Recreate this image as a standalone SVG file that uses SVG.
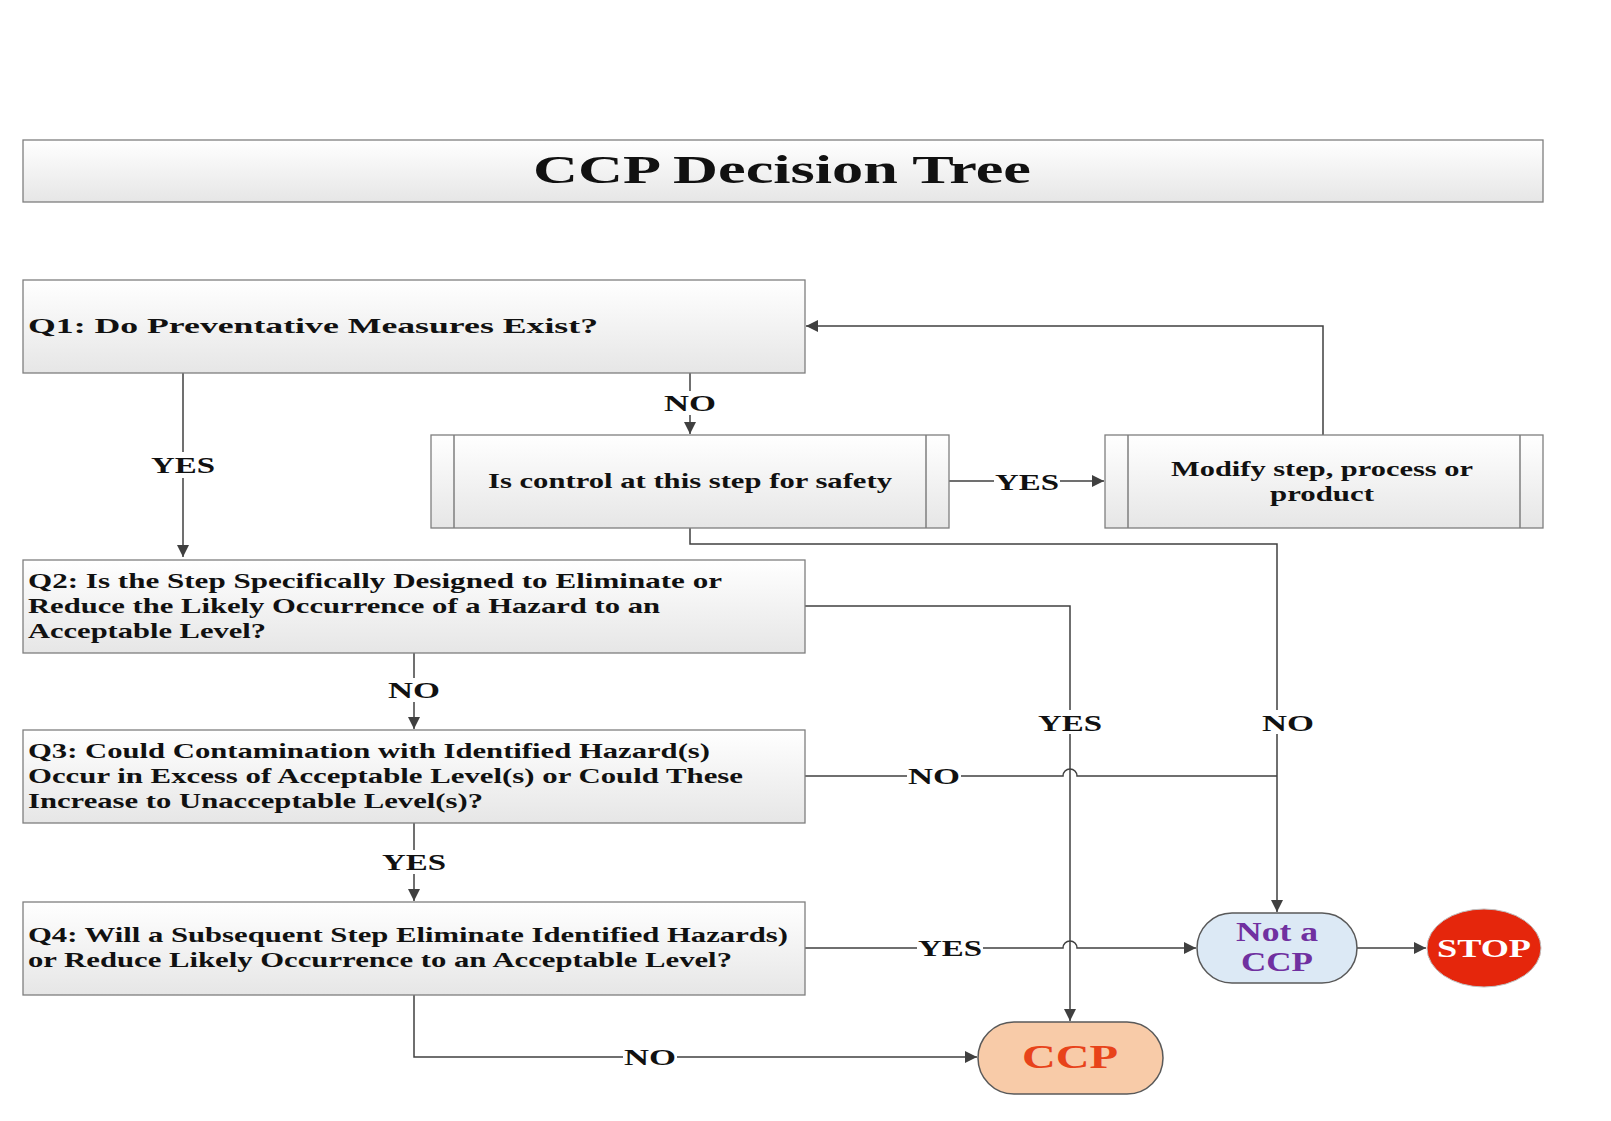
<svg xmlns="http://www.w3.org/2000/svg" width="1611" height="1121" viewBox="0 0 1611 1121">
<defs>
<linearGradient id="g" x1="0" y1="0" x2="0" y2="1"><stop offset="0" stop-color="#ffffff"/><stop offset="1" stop-color="#e6e6e6"/></linearGradient>
<marker id="a" viewBox="0 0 10 10" refX="10" refY="5" markerWidth="12" markerHeight="12" markerUnits="userSpaceOnUse" orient="auto"><path d="M0,0 L10,5 L0,10 z" fill="#404040"/></marker>
<style>
.box{fill:url(#g);stroke:#7f7f7f;stroke-width:1.3}
.t{font-family:"Liberation Serif",serif;font-weight:bold;font-size:22px;fill:#111}
.c{text-anchor:middle}
.ln{fill:none;stroke:#404040;stroke-width:1.5}
.lb{font-family:"Liberation Serif",serif;font-weight:bold;font-size:24px;fill:#111;text-anchor:middle}
.bg{fill:#fff}
</style>
</defs>
<rect width="1611" height="1121" fill="#fff"/>
<g id="title"><rect class="box" x="23" y="140" width="1520" height="62"/><text class="t c" x="782" y="183" style="font-size:40px" textLength="498" lengthAdjust="spacingAndGlyphs">CCP Decision Tree</text></g>
<g id="connectors">
<path class="ln" d="M183,373 V557" marker-end="url(#a)"/>
<path class="ln" d="M690,373 V434" marker-end="url(#a)"/>
<path class="ln" d="M949,481 H1104" marker-end="url(#a)"/>
<path class="ln" d="M1323,435 V326 H806" marker-end="url(#a)"/>
<path class="ln" d="M690,528 V544 H1277 V912" marker-end="url(#a)"/>
<path class="ln" d="M805,606 H1070 V1021" marker-end="url(#a)"/>
<path class="ln" d="M414,653 V729" marker-end="url(#a)"/>
<path class="ln" d="M805,776 H1063 A7,7 0 0 1 1077,776 H1277"/>
<path class="ln" d="M414,823 V901" marker-end="url(#a)"/>
<path class="ln" d="M805,948 H1063 A7,7 0 0 1 1077,948 H1196" marker-end="url(#a)"/>
<path class="ln" d="M1357,948 H1426" marker-end="url(#a)"/>
<path class="ln" d="M414,995 V1057 H977" marker-end="url(#a)"/>
<rect class="bg" x="150" y="452" width="66" height="26"/><text class="lb" x="183" y="473" textLength="64" lengthAdjust="spacingAndGlyphs">YES</text>
<rect class="bg" x="663" y="391" width="54" height="24"/><text class="lb" x="690" y="411" textLength="52" lengthAdjust="spacingAndGlyphs">NO</text>
<rect class="bg" x="994" y="469" width="66" height="24"/><text class="lb" x="1027" y="490" textLength="64" lengthAdjust="spacingAndGlyphs">YES</text>
<rect class="bg" x="1261" y="710" width="54" height="24"/><text class="lb" x="1288" y="731" textLength="52" lengthAdjust="spacingAndGlyphs">NO</text>
<rect class="bg" x="1037" y="710" width="66" height="24"/><text class="lb" x="1070" y="731" textLength="64" lengthAdjust="spacingAndGlyphs">YES</text>
<rect class="bg" x="387" y="678" width="54" height="24"/><text class="lb" x="414" y="698" textLength="52" lengthAdjust="spacingAndGlyphs">NO</text>
<rect class="bg" x="907" y="764" width="54" height="24"/><text class="lb" x="934" y="784" textLength="52" lengthAdjust="spacingAndGlyphs">NO</text>
<rect class="bg" x="381" y="850" width="66" height="24"/><text class="lb" x="414" y="870" textLength="64" lengthAdjust="spacingAndGlyphs">YES</text>
<rect class="bg" x="917" y="936" width="66" height="24"/><text class="lb" x="950" y="956" textLength="64" lengthAdjust="spacingAndGlyphs">YES</text>
<rect class="bg" x="623" y="1045" width="54" height="24"/><text class="lb" x="650" y="1065" textLength="52" lengthAdjust="spacingAndGlyphs">NO</text>
</g>
<g id="q1"><rect class="box" x="23" y="280" width="782" height="93"/><text class="t" x="28" y="333" textLength="570" lengthAdjust="spacingAndGlyphs">Q1: Do Preventative Measures Exist?</text></g>
<g id="control"><rect class="box" x="431" y="435" width="518" height="93"/><path class="ln" d="M454,435 V528 M926,435 V528" style="stroke:#7f7f7f"/><text class="t c" x="690" y="488" textLength="404" lengthAdjust="spacingAndGlyphs">Is control at this step for safety</text></g>
<g id="modify"><rect class="box" x="1105" y="435" width="438" height="93"/><path class="ln" d="M1128,435 V528 M1520,435 V528" style="stroke:#7f7f7f"/><text class="t c" x="1322" y="476" textLength="302" lengthAdjust="spacingAndGlyphs">Modify step, process or</text><text class="t c" x="1322" y="501" textLength="104" lengthAdjust="spacingAndGlyphs">product</text></g>
<g id="q2"><rect class="box" x="23" y="560" width="782" height="93"/><text class="t" x="28" y="588" textLength="694" lengthAdjust="spacingAndGlyphs">Q2: Is the Step Specifically Designed to Eliminate or</text><text class="t" x="28" y="613" textLength="632" lengthAdjust="spacingAndGlyphs">Reduce the Likely Occurrence of a Hazard to an</text><text class="t" x="28" y="638" textLength="238" lengthAdjust="spacingAndGlyphs">Acceptable Level?</text></g>
<g id="q3"><rect class="box" x="23" y="730" width="782" height="93"/><text class="t" x="28" y="758" textLength="682" lengthAdjust="spacingAndGlyphs">Q3: Could Contamination with Identified Hazard(s)</text><text class="t" x="28" y="783" textLength="715" lengthAdjust="spacingAndGlyphs">Occur in Excess of Acceptable Level(s) or Could These</text><text class="t" x="28" y="808" textLength="455" lengthAdjust="spacingAndGlyphs">Increase to Unacceptable Level(s)?</text></g>
<g id="q4"><rect class="box" x="23" y="902" width="782" height="93"/><text class="t" x="28" y="942" textLength="760" lengthAdjust="spacingAndGlyphs">Q4: Will a Subsequent Step Eliminate Identified Hazards)</text><text class="t" x="28" y="967" textLength="704" lengthAdjust="spacingAndGlyphs">or Reduce Likely Occurrence to an Acceptable Level?</text></g>
<g id="notccp"><rect x="1197" y="913" width="160" height="70" rx="35" fill="#dce9f5" stroke="#595959" stroke-width="1.5"/><text class="t c" x="1277" y="941" style="font-size:27px;fill:#7030a0" textLength="82" lengthAdjust="spacingAndGlyphs">Not a</text><text class="t c" x="1277" y="971" style="font-size:27px;fill:#7030a0" textLength="72" lengthAdjust="spacingAndGlyphs">CCP</text></g>
<g id="stop"><ellipse cx="1484" cy="948" rx="57" ry="39" fill="#e5260c" stroke="#c0c0c0" stroke-width="1"/><text class="t c" x="1484" y="957" style="font-size:26px;fill:#fff" textLength="94" lengthAdjust="spacingAndGlyphs">STOP</text></g>
<g id="ccp"><rect x="978" y="1022" width="185" height="72" rx="36" fill="#f8cba8" stroke="#595959" stroke-width="1.5"/><text class="t c" x="1070" y="1068" style="font-size:34px;fill:#e8431a" textLength="96" lengthAdjust="spacingAndGlyphs">CCP</text></g>
</svg>
